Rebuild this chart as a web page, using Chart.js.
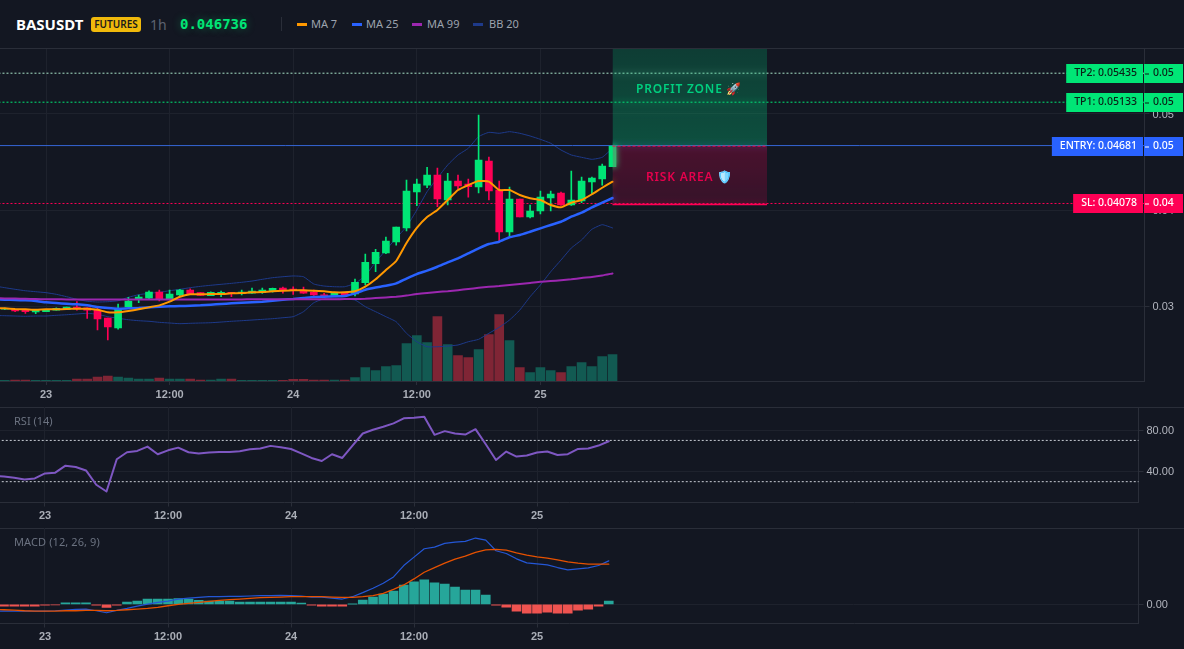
<!DOCTYPE html>
<html><head><meta charset="utf-8">
<script src="https://cdn.jsdelivr.net/npm/chart.js@4"></script>
<style>
html,body{margin:0;padding:0;background:#131722;width:1184px;height:649px;overflow:hidden;font-family:"Noto Sans",sans-serif}
canvas{position:absolute;left:0}
.t{position:absolute;white-space:nowrap;line-height:1}
.h{position:absolute;left:0;width:1184px;height:1px;background:#2a2e39}
.sw{position:absolute;width:10px;height:3px;top:22.5px}
.lg{top:16px;font:400 11px 'Noto Sans';color:#9da3ae}
</style></head><body>
<div class="t" style="left:16px;top:14px;font:700 15px 'Noto Sans';color:#fff">BASUSDT</div>
<div class="t" style="left:91px;top:17px;width:50px;height:15px;line-height:15px;background:#f0b90b;border-radius:3px;text-align:center;font:600 10px/15px 'Noto Sans';color:#1a1a1a">FUTURES</div>
<div class="t" style="left:150px;top:15px;font:400 14px 'Noto Sans';color:#5d6370">1h</div>
<div class="t" style="left:180px;top:16px;font:700 14px 'DejaVu Sans Mono';color:#00e676;text-shadow:0 0 8px rgba(0,230,118,.35)">0.046736</div>
<div style="position:absolute;left:281px;top:17px;width:1px;height:14px;background:#2a2e39"></div>
<div class="sw" style="left:297px;background:#ff9800"></div><div class="t lg" style="left:311px">MA 7</div>
<div class="sw" style="left:352px;background:#2962ff"></div><div class="t lg" style="left:366px">MA 25</div>
<div class="sw" style="left:412px;background:#9c27b0"></div><div class="t lg" style="left:427px">MA 99</div>
<div class="sw" style="left:473px;background:#1e3a8a"></div><div class="t lg" style="left:489px">BB 20</div>
<div class="h" style="top:48px"></div>
<div class="h" style="top:407px"></div>
<div class="h" style="top:528px"></div>
<canvas id="main" width="1184" height="358" style="top:49px"></canvas>
<canvas id="rsi" width="1184" height="121" style="top:407px"></canvas>
<canvas id="macd" width="1184" height="121" style="top:528px"></canvas>
<div class="t" style="left:14px;top:413px;font:400 11px 'Noto Sans';color:#6b7280">RSI (14)</div>
<div class="t" style="left:14px;top:534px;font:400 11px 'Noto Sans';color:#6b7280;letter-spacing:.1px">MACD (12, 26, 9)</div>
<script>
const timeTickBars=[4,16,28,40,52];
const timeTickLabels=['23','12:00','24','12:00','25'];
const priceTicks=[0.05,0.04,0.03];
const rsiTicks=[80,40];
const macdTicks=[0];
const opens=[.02966,.02966,.02958,.02938,.02941,.02958,.02961,.02990,.02982,.02958,.02875,.02771,.02990,.03073,.03083,.03146,.03073,.03115,.03167,.03139,.03107,.03122,.03139,.03132,.03135,.03139,.03149,.03188,.03174,.03167,.03146,.03115,.03111,.03139,.03125,.03243,.03441,.03552,.03667,.03813,.04188,.04260,.04365,.04104,.04302,.04271,.04240,.04510,.04208,.03771,.04115,.03927,.03990,.04125,.04177,.04052,.04094,.04292,.04323,.04451];
const highs=[.02979,.02966,.02958,.02966,.02958,.02982,.02990,.03045,.02982,.02976,.02875,.03021,.03091,.03115,.03159,.03167,.03167,.03174,.03180,.03139,.03149,.03156,.03139,.03167,.03188,.03188,.03188,.03198,.03201,.03198,.03167,.03132,.03143,.03139,.03281,.03542,.03591,.03719,.03823,.04313,.04323,.04445,.04438,.04382,.04365,.04323,.04990,.04552,.04302,.04240,.04115,.04052,.04198,.04198,.04188,.04406,.04344,.04344,.04479,.04667];
const lows=[.02961,.02941,.02924,.02920,.02941,.02958,.02961,.02958,.02872,.02750,.02646,.02760,.02990,.03034,.03070,.03052,.03063,.03107,.03118,.03111,.03107,.03097,.03097,.03115,.03132,.03132,.03143,.03135,.03122,.03132,.03111,.03097,.03111,.03115,.03104,.03219,.03357,.03545,.03635,.03781,.04045,.04232,.04034,.04052,.04216,.04135,.04177,.04104,.03677,.03729,.03927,.03917,.03958,.03990,.04049,.04049,.04076,.04167,.04260,.04451];
const closes=[.02976,.02948,.02941,.02958,.02958,.02976,.02990,.02969,.02958,.02865,.02781,.02969,.03052,.03094,.03146,.03073,.03125,.03167,.03122,.03111,.03143,.03143,.03132,.03146,.03156,.03167,.03184,.03167,.03167,.03135,.03115,.03107,.03143,.03115,.03247,.03455,.03559,.03677,.03823,.04198,.04271,.04365,.04115,.04302,.04250,.04243,.04521,.04198,.03771,.04115,.03927,.03990,.04135,.04167,.04052,.04104,.04302,.04333,.04458,.04667];
const volumes=[2000,3000,3000,2000,2000,2000,2000,6000,6000,12000,15000,12000,9000,6000,6000,9000,6000,6000,6000,3000,3000,6000,6000,2000,2000,2000,2000,2000,5000,5000,3000,3000,3000,3000,10000,40000,31000,43000,46000,112000,136000,115000,193000,109000,76000,70000,94000,139000,199000,121000,40000,25000,40000,31000,25000,43000,55000,43000,73000,79000];
// line series carry one extra leading value: the hour before the first visible candle
const ma7=[.02979,.02976,.02969,.02966,.02961,.02966,.02966,.02969,.02972,.02972,.02961,.02934,.02934,.02948,.02966,.02986,.03007,.03045,.03097,.03122,.03122,.03125,.03125,.03132,.03135,.03143,.03146,.03153,.03159,.03164,.03164,.03159,.03153,.03143,.03143,.03153,.03201,.03278,.03375,.03469,.03656,.03813,.03927,.04000,.04104,.04208,.04260,.04302,.04295,.04208,.04208,.04156,.04122,.04104,.04052,.04028,.04076,.04104,.04164,.04232,.04295];
const ma25=[.03069,.03066,.03063,.03059,.03052,.03039,.03031,.03024,.03018,.03007,.02990,.02979,.02972,.02976,.02979,.02986,.02993,.02997,.03000,.03003,.03007,.03014,.03021,.03028,.03034,.03039,.03045,.03055,.03066,.03073,.03083,.03094,.03097,.03101,.03104,.03132,.03170,.03193,.03211,.03236,.03286,.03333,.03368,.03409,.03455,.03497,.03549,.03601,.03646,.03670,.03716,.03740,.03774,.03809,.03844,.03878,.03930,.03972,.04028,.04076,.04125];
const ma99=[.03081,.03079,.03077,.03075,.03073,.03070,.03070,.03069,.03069,.03069,.03068,.03068,.03068,.03068,.03068,.03068,.03068,.03068,.03068,.03068,.03068,.03068,.03069,.03069,.03069,.03070,.03070,.03070,.03070,.03070,.03070,.03070,.03070,.03071,.03072,.03073,.03076,.03083,.03089,.03097,.03109,.03125,.03135,.03146,.03154,.03165,.03177,.03190,.03201,.03208,.03219,.03229,.03240,.03253,.03260,.03268,.03278,.03292,.03302,.03318,.03339];
const bbUpper=[.03208,.03191,.03174,.03159,.03149,.03139,.03122,.03097,.03070,.03049,.03042,.03045,.03055,.03091,.03118,.03132,.03143,.03159,.03174,.03191,.03205,.03216,.03226,.03236,.03247,.03260,.03278,.03295,.03305,.03313,.03305,.03229,.03208,.03201,.03201,.03236,.03316,.03458,.03583,.03708,.03826,.04000,.04191,.04333,.04469,.04573,.04643,.04764,.04809,.04799,.04816,.04799,.04771,.04736,.04695,.04625,.04573,.04549,.04528,.04549,.04643];
const bbLower=[.02902,.02899,.02896,.02893,.02896,.02896,.02903,.02909,.02917,.02924,.02914,.02889,.02872,.02857,.02847,.02841,.02830,.02823,.02816,.02820,.02823,.02826,.02833,.02841,.02847,.02854,.02861,.02868,.02878,.02889,.02941,.03034,.03076,.03083,.03070,.03063,.02993,.02941,.02889,.02836,.02716,.02628,.02576,.02576,.02583,.02594,.02628,.02653,.02716,.02778,.02854,.02958,.03097,.03219,.03357,.03479,.03604,.03688,.03799,.03847,.03813];
const rsiValues=[35.3,35.1,33.8,32.2,33.1,38.0,38.7,45.5,44.2,40.9,27.0,20.5,51.7,58.5,59.8,64.0,56.6,60.4,63.0,58.5,57.2,58.2,58.8,58.8,59.5,61.4,62.1,64.7,63.4,61.7,57.5,53.0,50.0,56.6,53.0,65.0,76.7,80.3,83.2,86.5,91.4,92.0,93.0,75.4,79.0,76.7,75.7,80.9,66.3,51.0,59.2,54.3,55.3,58.2,59.2,55.9,56.6,61.7,62.1,65.0,69.2];
const rsiLevels=[70,30];
const macdLine=[-.0002,-.0002,-.0002,-.0002,-.0002,-.0002,-.00019,-.00017,-.00015,-.00014,-.00019,-.00025,-.00018,-.00012,-.00005,.00001,.00006,.0001,.00016,.00019,.00021,.00023,.00023,.00024,.00024,.00025,.00026,.00026,.00027,.00026,.00025,.00022,.00022,.00019,.00016,.00023,.00035,.00048,.00063,.00082,.00116,.00141,.00166,.00171,.00182,.00186,.00188,.00198,.00192,.0016,.00152,.00136,.00124,.00121,.00118,.0011,.00103,.00106,.00109,.00116,.0013];
const signalLine=[-.00015,-.00016,-.00017,-.00019,-.0002,-.0002,-.0002,-.00019,-.00019,-.00018,-.00018,-.00019,-.00018,-.00016,-.00014,-.00012,-.00009,-.00004,0,.00003,.00006,.00009,.00012,.00014,.00016,.00018,.0002,.00021,.00022,.00023,.00023,.00023,.00023,.00022,.00021,.00021,.00023,.00026,.00033,.00045,.00058,.00076,.00096,.0011,.00123,.00135,.00144,.00155,.00163,.00164,.00162,.00154,.00147,.00142,.00138,.00133,.00127,.00123,.0012,.0012,.0012];
const histogram=[-.00005,-.00005,-.00005,-.00005,-.00002,-.00001,.00005,.00005,.00005,-.00002,-.00009,-.00002,.00007,.0001,.00016,.00016,.00016,.00017,.00016,.00012,.0001,.0001,.0001,.00007,.00007,.00007,.00007,.00007,.00007,.00004,-.00002,-.00005,-.00005,-.00005,.00001,.00013,.00022,.00031,.0004,.00058,.00067,.00073,.00064,.00061,.00052,.00043,.00043,.00028,-.00002,-.00008,-.0002,-.00026,-.00026,-.00023,-.00026,-.00026,-.00017,-.00014,-.00005,.0001];
const levelNames=['TP2: 0.05435','TP1: 0.05133','ENTRY: 0.04681','SL: 0.04078'];
const levelPrices=[.05425,.05123,.04671,.04068];
const levelAxisText=['0.05','0.05','0.05','0.04'];
const zoneBars=[59,74];

const GRID='#1e222d',BORDER='#2a2e39',TICK='#b2b5be',FONT='"Noto Sans"',TICKFONT='"Liberation Sans"';
Chart.defaults.animation=false;
const idx=opens.map((_,i)=>i);
const series=a=>a.map((y,i)=>({x:i,y}));
const lineSeries=a=>a.map((y,i)=>({x:i-1,y}));
const lineDs=(a,color,w,order,tension=.15)=>({type:'line',data:lineSeries(a),borderColor:color,borderWidth:w,pointRadius:0,tension,order,borderCapStyle:'round',borderJoinStyle:'round'});
const up=i=>closes[i]>=opens[i];
function xScale(min,max){return{type:'linear',min,max,offset:false,
  afterBuildTicks(s){s.ticks=timeTickBars.map(v=>({value:v}))},
  afterFit(s){s.height=s.chart.height-s.chart.options.paneH;s.paddingLeft=0;s.paddingRight=0},
  ticks:{autoSkip:false,maxRotation:0,color:'#aaaeb7',font:{family:TICKFONT,size:11,weight:'bold'},padding:3,callback(v){return timeTickLabels[timeTickBars.indexOf(v)]}},
  grid:{offset:false,color:GRID,tickColor:BORDER,tickLength:4,drawOnChartArea:true},border:{color:BORDER}}}
function yScale(min,max,ticks,w,dec,pad){return{type:'linear',position:'right',min,max,
  afterBuildTicks(s){s.ticks=ticks.map(v=>({value:v}))},
  afterFit(s){s.width=w;s.paddingTop=0;s.paddingBottom=0},
  ticks:{color:TICK,font:{family:TICKFONT,size:11},padding:pad,labelOffset:1,callback:v=>v.toFixed(dec)},
  grid:{color:GRID,tickColor:BORDER,tickLength:5},border:{color:BORDER}}}
const base={responsive:false,devicePixelRatio:1,layout:{autoPadding:false,padding:0},plugins:{legend:{display:false},tooltip:{enabled:false}},events:[]};

const zonePlugin={id:'zones',afterDatasetsDraw(c){
  const{ctx}=c,x=c.scales.x,y=c.scales.y,a=c.chartArea;
  const x0=x.getPixelForValue(zoneBars[0]),x1=x.getPixelForValue(zoneBars[1]);
  const yE=y.getPixelForValue(levelPrices[2])+.5,yS=y.getPixelForValue(levelPrices[3])+1;
  ctx.save();
  ctx.beginPath();ctx.rect(x0,a.top,x1-x0,yS-a.top);ctx.clip();
  ctx.filter='blur(3px)';ctx.drawImage(c.canvas,0,0);ctx.filter='none';
  let g=ctx.createLinearGradient(0,a.top,0,yE);g.addColorStop(0,'rgba(0,200,120,.22)');g.addColorStop(1,'rgba(0,210,130,.30)');
  ctx.fillStyle=g;ctx.fillRect(x0,a.top,x1-x0,yE-a.top);
  g=ctx.createLinearGradient(0,yE,0,yS);g.addColorStop(0,'rgba(255,0,85,.24)');g.addColorStop(1,'rgba(255,0,85,.15)');
  ctx.fillStyle=g;ctx.fillRect(x0,yE,x1-x0,yS-yE);
  ctx.restore();
  ctx.save();
  ctx.strokeStyle='#ff0055';ctx.lineWidth=1;ctx.setLineDash([3,2]);ctx.beginPath();ctx.moveTo(x0,yE);ctx.lineTo(x1,yE);ctx.stroke();
  ctx.setLineDash([]);ctx.lineWidth=1.5;ctx.beginPath();ctx.moveTo(x0,yS);ctx.lineTo(x1,yS);ctx.stroke();
  ctx.textBaseline='middle';ctx.textAlign='left';ctx.font='600 12px '+FONT;ctx.letterSpacing='.8px';
  ctx.fillStyle='#00cf7f';ctx.fillText('PROFIT ZONE',636,a.top+41);ctx.fillText('🚀',726,a.top+41);
  ctx.fillStyle='#e6004d';ctx.fillText('RISK AREA',646,yE+31);
  ctx.filter='sepia(1) saturate(5) hue-rotate(170deg)';ctx.fillText('🛡️',717,yE+31);ctx.filter='none';
  ctx.restore();
},afterDraw(c){
  const{ctx}=c,y=c.scales.y;
  const bg=['#00e676','#00e676','#2962ff','#ff0055'],fg=['#0b1f17','#0b1f17','#ffffff','#ffffff'];
  ctx.save();ctx.textBaseline='middle';
  levelNames.forEach((t,i)=>{
    const py=Math.round(y.getPixelForValue(levelPrices[i]))+.5;
    ctx.font='500 10.5px '+FONT;ctx.textAlign='right';
    const w=ctx.measureText(t).width+14;
    ctx.fillStyle=bg[i];ctx.fillRect(1143-w,py-9.5,w,19);ctx.fillRect(1144,py-9.5,39,19);
    ctx.fillStyle=fg[i];ctx.fillText(t,1137,py);
    ctx.textAlign='left';ctx.fillText(levelAxisText[i],1153,py);
    ctx.fillRect(1145,py,4,1);
  });ctx.restore();
}};
const levelColors=['#a9e5c8','#00e676','#3566d6','#ff0055'];
new Chart('main',{plugins:[zonePlugin],data:{datasets:[
  {type:'bar',yAxisID:'vol',order:9,grouped:false,barThickness:9,data:series(volumes),backgroundColor:idx.map(i=>up(i)?'#125a52':'#7f2535')},
  {type:'bar',order:5,grouped:false,barThickness:1,data:idx.map(i=>({x:i,y:[lows[i],highs[i]]})),backgroundColor:idx.map(i=>up(i)?'#00e676':'#ff0055')},
  {type:'bar',order:4,grouped:false,barThickness:7,minBarLength:1,data:idx.map(i=>({x:i,y:[opens[i],closes[i]]})),backgroundColor:idx.map(i=>up(i)?'#00e676':'#ff0055')},
  lineDs(bbUpper,'#1e3a8a',1,7),lineDs(bbLower,'#1e3a8a',1,7),
  lineDs(ma99,'#9c27b0',2,3),lineDs(ma25,'#2962ff',2.5,3.1),lineDs(ma7,'#ff9800',2,2),
  ...levelPrices.map((p,i)=>({type:'line',order:6,data:[{x:-1,y:p},{x:112,y:p}],borderColor:levelColors[i],borderWidth:1,borderDash:i==2?[]:[2,2],pointRadius:0}))
]},options:{...base,paneH:332,scales:{
  x:xScale(-.466,110.65),
  y:yScale(.02219,.05677,priceTicks,39.5,2,3),
  vol:{display:false,min:0,max:996000}
}}});
new Chart('rsi',{data:{datasets:[
  ...rsiLevels.map(l=>({type:'line',order:5,data:[{x:-1,y:l},{x:112,y:l}],borderColor:'#c8ccd4',borderWidth:1,borderDash:[2,2],pointRadius:0})),
  lineDs(rsiValues,'#7e57c2',2,1,0)
]},options:{...base,paneH:95.5,scales:{x:xScale(-.39,110.68),y:yScale(9.8,102.4,rsiTicks,45.5,2,3)}}});
new Chart('macd',{data:{datasets:[
  {type:'bar',order:5,grouped:false,barThickness:9,data:series(histogram),backgroundColor:histogram.map(v=>v>=0?'#26a69a':'#ef5350')},
  lineDs(signalLine,'#e65100',1.3,2,0),lineDs(macdLine,'#2457d6',1.2,3,0)
]},options:{...base,paneH:95.5,scales:{x:xScale(-.39,110.68),y:yScale(-.00057,.00228,macdTicks,45.5,2,3)}}});
</script>
</body></html>
